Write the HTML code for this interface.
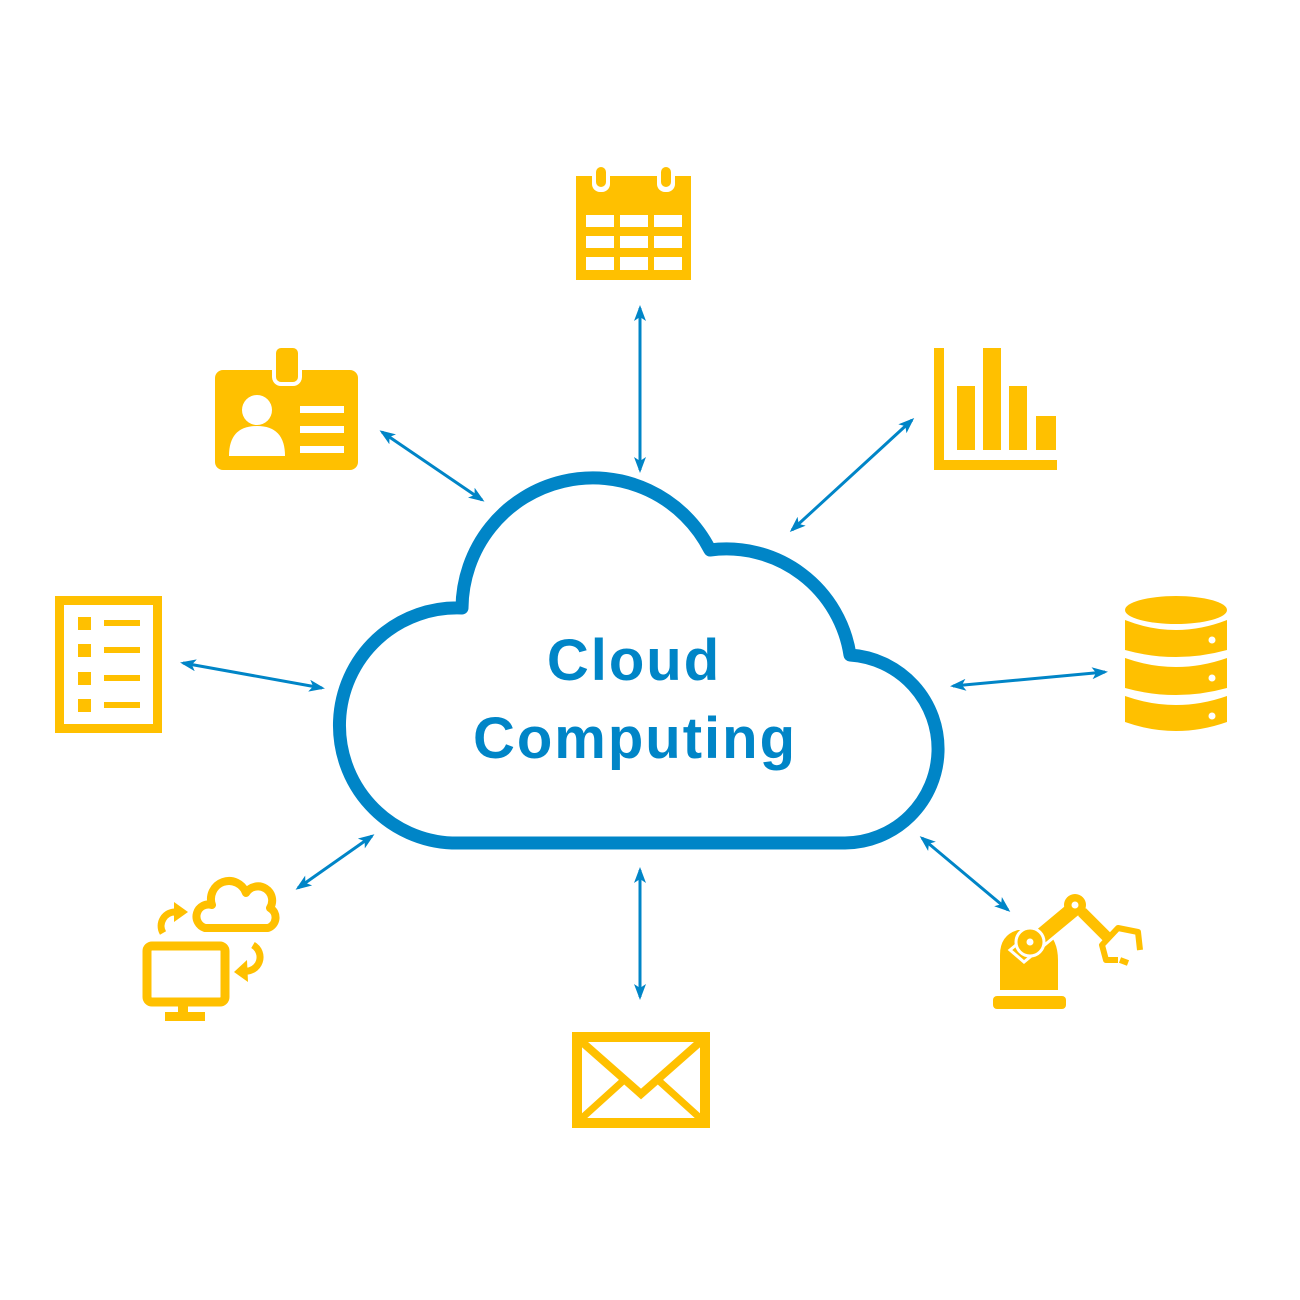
<!DOCTYPE html>
<html><head><meta charset="utf-8"><style>body{margin:0;background:#fff}svg{display:block}</style></head>
<body>
<svg width="1300" height="1300" viewBox="0 0 1300 1300" xmlns="http://www.w3.org/2000/svg">
<defs>
<marker id="a" markerWidth="16" markerHeight="12" refX="13" refY="6" orient="auto-start-reverse" markerUnits="userSpaceOnUse" viewBox="0 0 16 12"><path d="M0,0 L16,6 L0,12 L4,6 Z" fill="#0085C7"/></marker>
</defs>
<rect width="1300" height="1300" fill="#fff"/>
<!-- cloud -->
<path d="M452 843 A117.6 117.6 0 0 1 462 608 A131 131 0 0 1 710 550 A125 125 0 0 1 850 655 A94.1 94.1 0 0 1 845 843 Z" fill="#fff" stroke="#0085C7" stroke-width="13" stroke-linejoin="round"/>
<text x="634" y="680" text-anchor="middle" font-family="Liberation Sans, sans-serif" font-weight="bold" font-size="58" letter-spacing="2" fill="#0085C7">Cloud</text>
<text x="635" y="758" text-anchor="middle" font-family="Liberation Sans, sans-serif" font-weight="bold" font-size="58" letter-spacing="2" fill="#0085C7">Computing</text>
<!-- arrows -->
<g stroke="#0085C7" stroke-width="3" marker-start="url(#a)" marker-end="url(#a)">
<line x1="640" y1="308" x2="640" y2="470"/>
<line x1="382" y1="432" x2="482" y2="500"/>
<line x1="912" y1="420" x2="792" y2="530"/>
<line x1="183" y1="663" x2="322" y2="688"/>
<line x1="953" y1="686" x2="1105" y2="672"/>
<line x1="298" y1="888" x2="372" y2="836"/>
<line x1="640" y1="870" x2="640" y2="997"/>
<line x1="922" y1="838" x2="1008" y2="910"/>
</g>
<g fill="#FFC000">
<!-- calendar -->
<rect x="576" y="176" width="115" height="104"/>
<g fill="#fff">
<rect x="586" y="215" width="28" height="12"/><rect x="620" y="215" width="28" height="12"/><rect x="654" y="215" width="28" height="12"/>
<rect x="586" y="236" width="28" height="12"/><rect x="620" y="236" width="28" height="12"/><rect x="654" y="236" width="28" height="12"/>
<rect x="586" y="257" width="28" height="13"/><rect x="620" y="257" width="28" height="13"/><rect x="654" y="257" width="28" height="13"/>
<rect x="592" y="164" width="18" height="28" rx="8"/><rect x="657" y="164" width="18" height="28" rx="8"/>
</g>
<rect x="596" y="167" width="10" height="20" rx="5"/><rect x="661" y="167" width="10" height="20" rx="5"/>
<!-- ID card -->
<rect x="215" y="370" width="143" height="100" rx="8"/>
<rect x="274" y="346" width="26" height="38" rx="7" stroke="#fff" stroke-width="4"/>
<g fill="#fff">
<circle cx="257" cy="410" r="15"/>
<path d="M229 456 Q229 426 257 426 Q285 426 285 456 Z"/>
<rect x="300" y="406" width="44" height="7"/><rect x="300" y="426" width="44" height="7"/><rect x="300" y="446" width="44" height="7"/>
</g>
<!-- chart -->
<rect x="934" y="348" width="10" height="122"/><rect x="934" y="460" width="123" height="10"/>
<rect x="957" y="386" width="18" height="64"/><rect x="983" y="348" width="18" height="102"/><rect x="1009" y="386" width="18" height="64"/><rect x="1036" y="416" width="20" height="34"/>
<!-- doc list -->
<rect x="55" y="596" width="107" height="137"/>
<rect x="64" y="605" width="89" height="119" fill="#fff"/>
<rect x="78" y="617" width="13" height="13"/><rect x="104" y="620" width="36" height="6"/>
<rect x="78" y="644" width="13" height="13"/><rect x="104" y="647" width="36" height="6"/>
<rect x="78" y="672" width="13" height="13"/><rect x="104" y="675" width="36" height="6"/>
<rect x="78" y="699" width="13" height="13"/><rect x="104" y="702" width="36" height="6"/>
<!-- database -->
<ellipse cx="1176" cy="610" rx="51" ry="14"/>
<path d="M1125 620 Q1176 640 1227 620 L1227 650 Q1176 664 1125 650 Z"/>
<path d="M1125 658 Q1176 676 1227 658 L1227 688 Q1176 702 1125 688 Z"/>
<path d="M1125 696 Q1176 714 1227 696 L1227 722 Q1176 740 1125 722 Z"/>
<g fill="#fff"><circle cx="1212" cy="640" r="3.5"/><circle cx="1212" cy="678" r="3.5"/><circle cx="1212" cy="716" r="3.5"/></g>
<!-- email -->
<rect x="572" y="1032" width="138" height="96"/>
<rect x="582" y="1042" width="118" height="76" fill="#fff"/>
<path d="M582 1042 L641 1094 L700 1042" fill="none" stroke="#FFC000" stroke-width="8"/>
<path d="M582 1118 L624 1080 M700 1118 L658 1080" fill="none" stroke="#FFC000" stroke-width="7"/>
<!-- computer cloud sync -->
<rect x="147" y="946" width="78" height="56" rx="5" fill="none" stroke="#FFC000" stroke-width="9"/>
<rect x="178" y="1002" width="10" height="12"/><rect x="165" y="1012" width="40" height="9"/>
<path d="M205 928 A12 12 0 0 1 212 905 A18 18 0 0 1 246 893 A14 14 0 0 1 270 908 A11 11 0 0 1 268 928 Z" fill="none" stroke="#FFC000" stroke-width="8" stroke-linejoin="round"/>
<path d="M163 933 A14 14 0 0 1 176 912" fill="none" stroke="#FFC000" stroke-width="7"/>
<path d="M174 902 L188 912 L174 922 Z"/>
<path d="M253 945 A14 14 0 0 1 244 971" fill="none" stroke="#FFC000" stroke-width="7"/>
<path d="M247 960 L234 972 L248 982 Z"/>
<!-- robot -->
<rect x="993" y="996" width="73" height="13" rx="4"/>
<path d="M1000 990 L1000 955 Q1000 935 1018 930 L1045 930 Q1058 940 1058 960 L1058 990 Z"/>
<path d="M1010 950 L1070 900 L1082 914 L1024 962 Z" stroke="#fff" stroke-width="3"/>
<circle cx="1030" cy="942" r="14" stroke="#fff" stroke-width="3"/>
<circle cx="1030" cy="942" r="3.5" fill="#fff"/>
<circle cx="1075" cy="905" r="11"/><circle cx="1075" cy="905" r="3.5" fill="#fff"/>
<path d="M1082 912 L1108 938" stroke="#FFC000" stroke-width="11"/>
<path d="M1118 960 L1106 960 L1102 945 L1118 928 L1138 932 L1140 950" fill="none" stroke="#FFC000" stroke-width="6" stroke-linejoin="round"/>
<path d="M1120 960 L1128 963" stroke="#FFC000" stroke-width="6"/>
</g>
</svg>
</body></html>
